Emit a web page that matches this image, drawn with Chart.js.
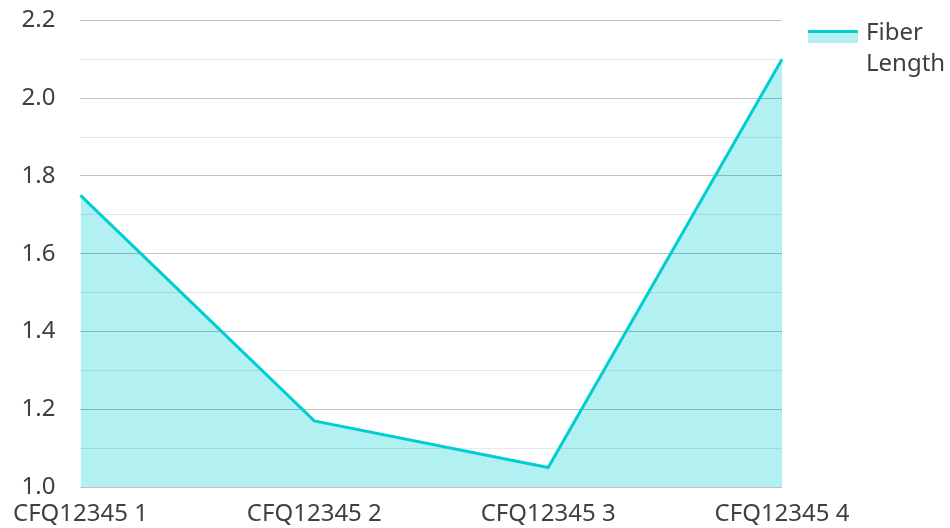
<!DOCTYPE html>
<html>
<head>
<meta charset="utf-8">
<script src="https://cdn.jsdelivr.net/npm/chart.js@4/dist/chart.umd.min.js"></script>
<style>
  html, body { margin: 0; padding: 0; background: #fff; }
  #wrap { position: relative; width: 950px; height: 528px; overflow: hidden; }
  canvas { display: block; position: absolute; left: 0; top: -19px; }
  #legend { position: absolute; left: 808px; top: 15px; font-family: "Noto Sans", sans-serif; font-size: 24px; color: #404040; line-height: 31px; }
  #legend .sw { position: absolute; left: 0; top: 15px; width: 50px; height: 10px; background: rgba(0,206,209,0.3); border-top: 3px solid #00CED1; }
  #legend .tx { position: absolute; left: 58px; top: 0; white-space: nowrap; }
</style>
</head>
<body>
<div id="wrap">
  <canvas id="c" width="950" height="547"></canvas>
  <div id="legend"><div class="sw"></div><div class="tx">Fiber<br>Length</div></div>
</div>
<script>
const categories = ["CFQ12345 1", "CFQ12345 2", "CFQ12345 3", "CFQ12345 4"];
const seriesName = "Fiber Length";
const fiberLength = [1.75, 1.17, 1.05, 2.10];
const yMin = 1.0, yMax = 2.2, yStep = 0.1;

new Chart(document.getElementById('c'), {
  type: 'line',
  data: {
    labels: categories,
    datasets: [{
      label: seriesName,
      data: fiberLength,
      borderColor: '#00CED1',
      backgroundColor: 'rgba(0,206,209,0.3)',
      borderWidth: 3,
      fill: 'origin',
      pointRadius: 0,
      tension: 0
    }]
  },
  options: {
    responsive: false,
    animation: false,
    layout: { padding: { top: -5, right: 168, left: 0, bottom: 0 } },
    plugins: {
      legend: { display: false },
      tooltip: { enabled: false },
      filler: { drawTime: 'beforeDraw' }
    },
    scales: {
      x: {
        offset: false,
        grid: { display: false, drawTicks: false },
        border: { display: false },
        afterFit: (s) => { s.height = 41; },
        ticks: { color: '#404040', font: { family: 'Noto Sans', size: 24 }, padding: 13, maxRotation: 0, autoSkip: false }
      },
      y: {
        min: yMin, max: yMax,
        border: { display: false },
        afterFit: (s) => { s.width = 80; },
        grid: {
          drawTicks: false,
          lineWidth: 1,
          color: (ctx) => {
            const v = Math.round(ctx.tick.value * 10);
            return v % 2 === 0 ? 'rgba(0,0,0,0.24)' : 'rgba(0,0,0,0.09)';
          }
        },
        ticks: {
          stepSize: yStep,
          padding: 25,
          color: '#404040',
          font: { family: 'Noto Sans', size: 24 },
          callback: (v) => (Math.round(v * 10) % 2 === 0 ? Number(v).toFixed(1) : '')
        }
      }
    }
  }
});
</script>
</body>
</html>
